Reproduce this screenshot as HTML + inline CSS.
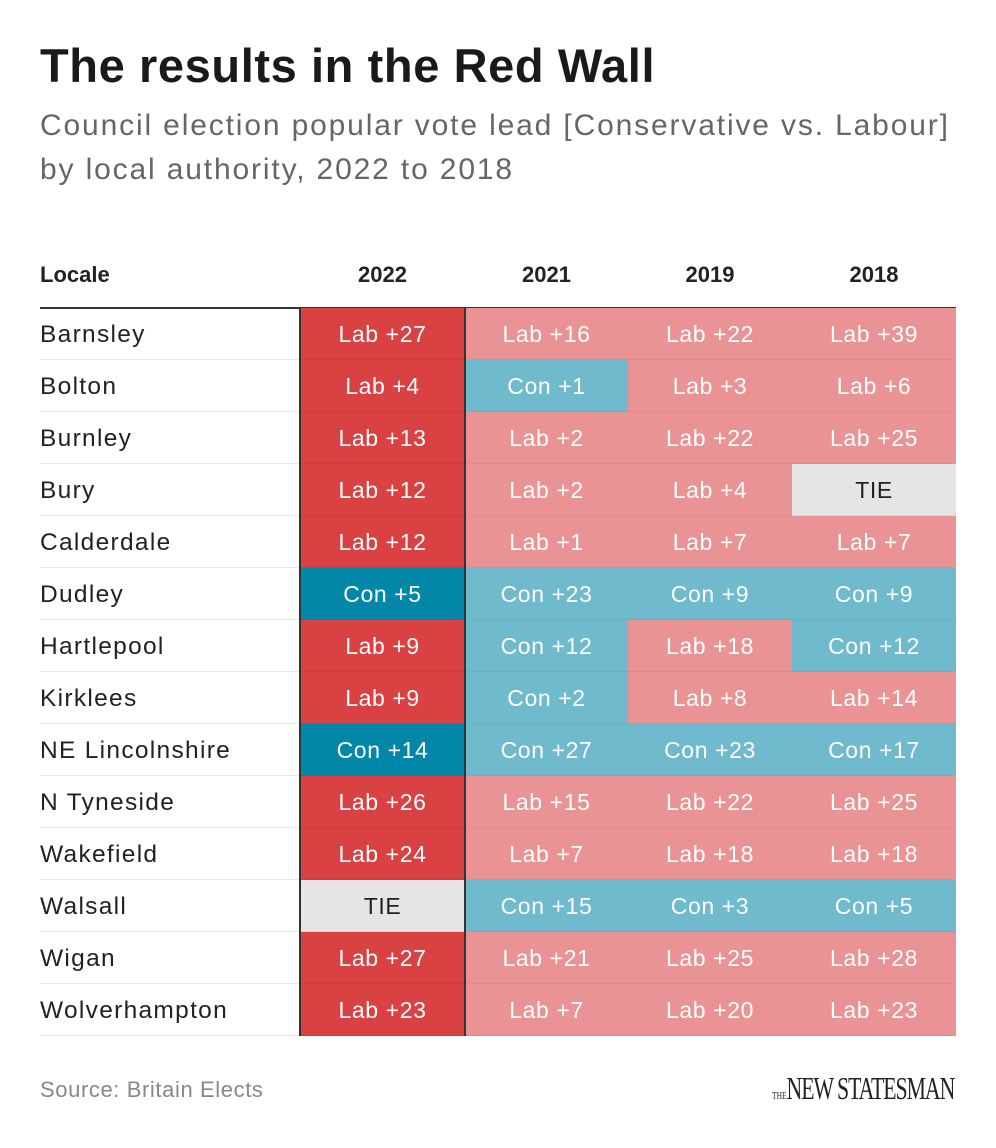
<!DOCTYPE html>
<html><head><meta charset="utf-8"><style>
body{margin:0;width:996px;height:1148px;background:#fff;font-family:"Liberation Sans",sans-serif;position:relative;overflow:hidden}
.abs{position:absolute}
#title{left:40px;top:38px;font-size:47px;font-weight:bold;color:#1a1a1a;letter-spacing:0.6px;white-space:nowrap}
#sub{left:40px;top:104px;font-size:30px;line-height:44px;color:#666;letter-spacing:1.85px;white-space:nowrap}
.hd{top:262px;font-size:22px;font-weight:bold;color:#222;text-align:center}
.cell{height:52px;line-height:52px;text-align:center;font-size:23px;letter-spacing:0.6px;color:#fff;box-sizing:border-box;border-bottom:1px solid rgba(0,0,0,0.05)}
.loc{height:52px;line-height:54px;font-size:24.5px;letter-spacing:1.3px;color:#222;box-sizing:border-box;border-bottom:1px solid #e8e8e8;left:40px;width:260px;white-space:nowrap}
#src{left:40px;top:1077px;font-size:22px;letter-spacing:0.6px;color:#888}
#logo{left:772px;top:1070px;font-family:"Liberation Serif",serif;font-size:32px;color:#222;letter-spacing:-1.5px;white-space:nowrap;transform:scaleX(0.68);transform-origin:left}
</style></head><body>
<div id="title" class="abs">The results in the Red Wall</div>
<div id="sub" class="abs">Council election popular vote lead [Conservative vs. Labour]<br>by local authority, 2022 to 2018</div>
<div class="abs hd" style="left:40px;text-align:left">Locale</div>
<div class="abs" style="left:40px;top:307px;width:916px;height:2px;background:#333"></div>
<div id="tbl"></div>
<div class="abs" style="left:299px;top:308px;width:2px;height:728px;background:#333"></div>
<div class="abs" style="left:464px;top:308px;width:2px;height:728px;background:#333"></div>
<div id="src" class="abs">Source: Britain Elects</div>
<div id="logo" class="abs"><span style="font-size:11px;letter-spacing:0">THE</span>NEW STATESMAN</div>
<script>
const years=["2022","2021","2019","2018"];
const locales=["Barnsley","Bolton","Burnley","Bury","Calderdale","Dudley","Hartlepool","Kirklees","NE Lincolnshire","N Tyneside","Wakefield","Walsall","Wigan","Wolverhampton"];
const v2022=["Lab +27","Lab +4","Lab +13","Lab +12","Lab +12","Con +5","Lab +9","Lab +9","Con +14","Lab +26","Lab +24","TIE","Lab +27","Lab +23"];
const v2021=["Lab +16","Con +1","Lab +2","Lab +2","Lab +1","Con +23","Con +12","Con +2","Con +27","Lab +15","Lab +7","Con +15","Lab +21","Lab +7"];
const v2019=["Lab +22","Lab +3","Lab +22","Lab +4","Lab +7","Con +9","Lab +18","Lab +8","Con +23","Lab +22","Lab +18","Con +3","Lab +25","Lab +20"];
const v2018=["Lab +39","Lab +6","Lab +25","TIE","Lab +7","Con +9","Con +12","Lab +14","Con +17","Lab +25","Lab +18","Con +5","Lab +28","Lab +23"];
const series=[v2022,v2021,v2019,v2018];
const colX=[300,465,628,792],colW=[165,163,164,164];
const top0=308,rowH=52;
const tbl=document.getElementById('tbl');
years.forEach((y,j)=>{
  const h=document.createElement('div');
  h.className='abs hd';h.style.left=colX[j]+'px';h.style.width=colW[j]+'px';h.textContent=y;
  
  
  tbl.appendChild(h);
});
locales.forEach((l,i)=>{
  const d=document.createElement('div');
  d.className='abs loc';d.style.top=(top0+i*rowH)+'px';d.textContent=l;
  
  
  tbl.appendChild(d);
  series.forEach((s,j)=>{
    const v=s[i];const c=document.createElement('div');
    c.className='abs cell';c.style.top=(top0+i*rowH)+'px';c.style.left=colX[j]+'px';c.style.width=colW[j]+'px';
    let bg;
    if(v==='TIE'){bg='#e5e5e5';c.style.color='#222';}
    else if(v.startsWith('Lab'))bg=j===0?'#d94143':'#e99395';
    else bg=j===0?'#0287a9':'#6fbacd';
    c.style.background=bg;c.textContent=v;
    
    
    tbl.appendChild(c);
  });
});
</script>
</body></html>
